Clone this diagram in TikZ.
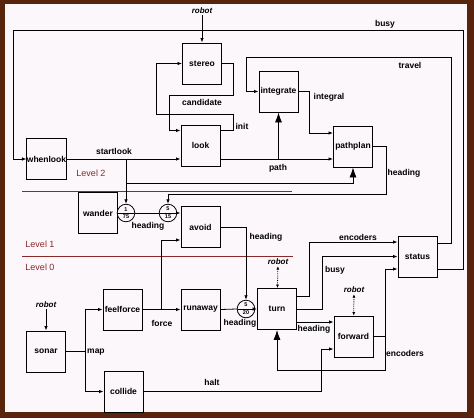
\documentclass[tikz,border=0pt]{standalone}
\usepackage{fontspec}
\setmainfont{Liberation Sans}
\usetikzlibrary{arrows.meta,shapes.multipart}
\definecolor{framebrown}{RGB}{88,36,14}
\definecolor{paper}{RGB}{252,247,250}
\definecolor{levelred}{RGB}{140,40,40}

\begin{document}
\begin{tikzpicture}[x=1pt, y=-1pt,
    module/.style={rectangle, draw, line width=0.9pt, minimum width=39pt, minimum height=41pt, inner sep=0pt, font=\fontsize{8.5}{10}\selectfont\bfseries},
    supp/.style={circle split, draw, line width=0.8pt, fill=paper, inner sep=1.6pt, font=\fontsize{5.5}{6}\selectfont\bfseries},
    sig/.style={-{Latex[length=4.5pt,width=3.5pt]}, line width=0.8pt},
    wire/.style={line width=0.8pt},
    inhib/.style={-{Latex[length=10pt,width=7pt]}, line width=0.8pt},
    lbl/.style={font=\fontsize{8.5}{10}\selectfont\bfseries, inner sep=0pt},
    robotlbl/.style={font=\fontsize{8}{10}\selectfont\bfseries\itshape, inner sep=1pt},
    probe/.style={{Latex[length=3.5pt,width=3pt]}-{Latex[length=3.5pt,width=3pt]}, line width=0.8pt, densely dotted},
    level/.style={levelred, line width=0.9pt},
    levellbl/.style={text=levelred, font=\fontsize{9}{10}\selectfont, inner sep=0pt}]

        % Frame
        \useasboundingbox (0,0) rectangle (474,418);
        \fill[framebrown] (0,0) rectangle (474,418);
        \fill[paper] (5,4) rectangle (467,412);

        % Modules
        \node[module] (stereo) at (202,63.5) {stereo};
        \node[module] (look) at (200.5,145.5) {look};
        \node[module] (whenlook) at (46.5,159) {whenlook};
        \node[module] (integrate) at (278.5,91.5) {integrate};
        \node[module] (pathplan) at (353,146.5) {pathplan};
        \node[module] (wander) at (98,213) {wander};
        \node[module] (avoid) at (200.5,227) {avoid};
        \node[module] (feelforce) at (122.5,309.5) {feelforce};
        \node[module] (runaway) at (200.5,309.5) {runaway};
        \node[module] (turn) at (277,309) {turn};
        \node[module] (forward) at (353.5,336.5) {forward};
        \node[module] (status) at (417.5,256.5) {status};
        \node[module] (sonar) at (46,351.5) {sonar};
        \node[module] (collide) at (123.5,391.5) {collide};

        % Suppressors
        \node[supp] (s1) at (126,213) {1 \nodepart{lower} 75};
        \node[supp] (s2) at (168,213) {5 \nodepart{lower} 15};
        \node[supp] (s3) at (246,309) {5 \nodepart{lower} 20};

        % Levels
        \draw[level] (22,191) -- (292,191);
        \draw[level] (22,256) -- (293,256);
        \node[levellbl] (lev2) at (91,173) {Level 2};
        \node[levellbl] (lev1) at (40,244) {Level 1};
        \node[levellbl] (lev0) at (40,267) {Level 0};

        % Level 2
        \node[robotlbl] (rstereo) at (202,11) {robot};
        \draw[sig] (rstereo) -- (stereo);
        \draw[sig] (stereo.east) -- (233,63.5) -- (233,95) -- (169,95) |- ([yshift=15pt]look.west);
        \node[lbl] (lcand) at (202,102) {candidate};
        \draw[sig] ([yshift=15pt]look.east) -- (233,130.5) -- (233,114) -- (156,114) |- (stereo.west);
        \node[lbl] (linit) at (242,126) {init};
        \draw[sig] (whenlook.east) -- ([yshift=-13.5pt]look.west);
        \node[lbl] (lstart) at (114,151) {startlook};
        \coordinate (slv) at (126,159);
        \coordinate (slh) at (126,183);
        \draw[sig] (slv) -- (s1.north);
        \draw[inhib] (slh) -| (pathplan.south);
        \draw[sig] ([yshift=-13.5pt]look.east) -- ([yshift=-12.5pt]pathplan.west);
        \coordinate (pth) at (278.5,159);
        \draw[inhib] (pth) -- (integrate.south);
        \node[lbl] (lpath) at (278,168) {path};
        \draw[sig] (integrate.east) -- (309,91.5) |- ([yshift=13.5pt]pathplan.west);
        \node[lbl] (lintegral) at (329,97) {integral};
        \draw[sig] ([yshift=13.5pt]status.east) -- (451,243) -- (451,57) -- (246,57) |- (integrate.west);
        \node[lbl] (ltravel) at (410,65) {travel};
        \draw[sig] ([yshift=-12.5pt]status.east) -- (463,269) -- (463,30) -- (13,30) |- (whenlook.west);
        \node[lbl] (lbusytop) at (385,24) {busy};
        \draw[sig] (pathplan.east) -- (386,146.5) -- (386,194) -| (s2.north);
        \node[lbl] (lhead2) at (404,173) {heading};

        % Level 1
        \draw[wire] (wander.east) -- (s1.west);
        \draw[wire] (s1.east) -- (s2.west);
        \draw[sig] (s2.east) -- ([yshift=14pt]avoid.west);
        \node[lbl] (lhead1) at (148,226) {heading};
        \coordinate (fb) at (161,309.5);
        \draw[sig] (fb) |- ([yshift=-13pt]avoid.west);
        \draw[sig] (avoid.east) -| (s3.north);
        \node[lbl] (lheadav) at (266,237) {heading};

        % Level 0
        \node[robotlbl] (rsonar) at (46,305) {robot};
        \draw[sig] (rsonar) -- (sonar);
        \coordinate (mp) at (85,351.5);
        \draw[wire] (sonar.east) -- (mp);
        \draw[sig] (mp) |- (feelforce.west);
        \draw[sig] (mp) |- (collide.west);
        \node[lbl, anchor=west] (lmap) at (87,352) {map};
        \draw[sig] (feelforce.east) -- (runaway.west);
        \node[lbl] (lforce) at (162,323) {force};
        \draw[wire] (runaway.east) -- (s3.west);
        \draw[sig] (s3.east) -- (turn.west);
        \node[lbl] (lhead0) at (240,323) {heading};
        \node[robotlbl] (rturn) at (278,262) {robot};
        \draw[probe] (rturn) -- (turn);
        \node[robotlbl] (rfwd) at (354,290) {robot};
        \draw[probe] (rfwd) -- (forward);
        \draw[sig] ([yshift=-13pt]turn.east) -- ([yshift=14.5pt]forward.west);
        \node[lbl] (lheadfw) at (314,329) {heading};
        \draw[sig] (collide.east) -- (321,391.5) |- ([yshift=-12.5pt]forward.west);
        \node[lbl] (lhalt) at (212,382) {halt};
        \coordinate (enc) at (385,336.5);
        \draw[wire] (forward.east) -- (enc);
        \draw[sig] (enc) |- ([yshift=-12.5pt]status.west);
        \draw[inhib] (enc) -- (385,370) -| (turn.south);
        \node[lbl] (lencfw) at (405,353) {encoders};
        \draw[sig] ([yshift=13pt]turn.east) -- (309,296) |- ([yshift=14.5pt]status.west);
        \node[lbl] (lencturn) at (358,237) {encoders};
        \draw[sig] (turn.east) -- (322,309) |- (status.west);
        \node[lbl] (lbusy) at (335,270) {busy};
\end{tikzpicture}
\end{document}
